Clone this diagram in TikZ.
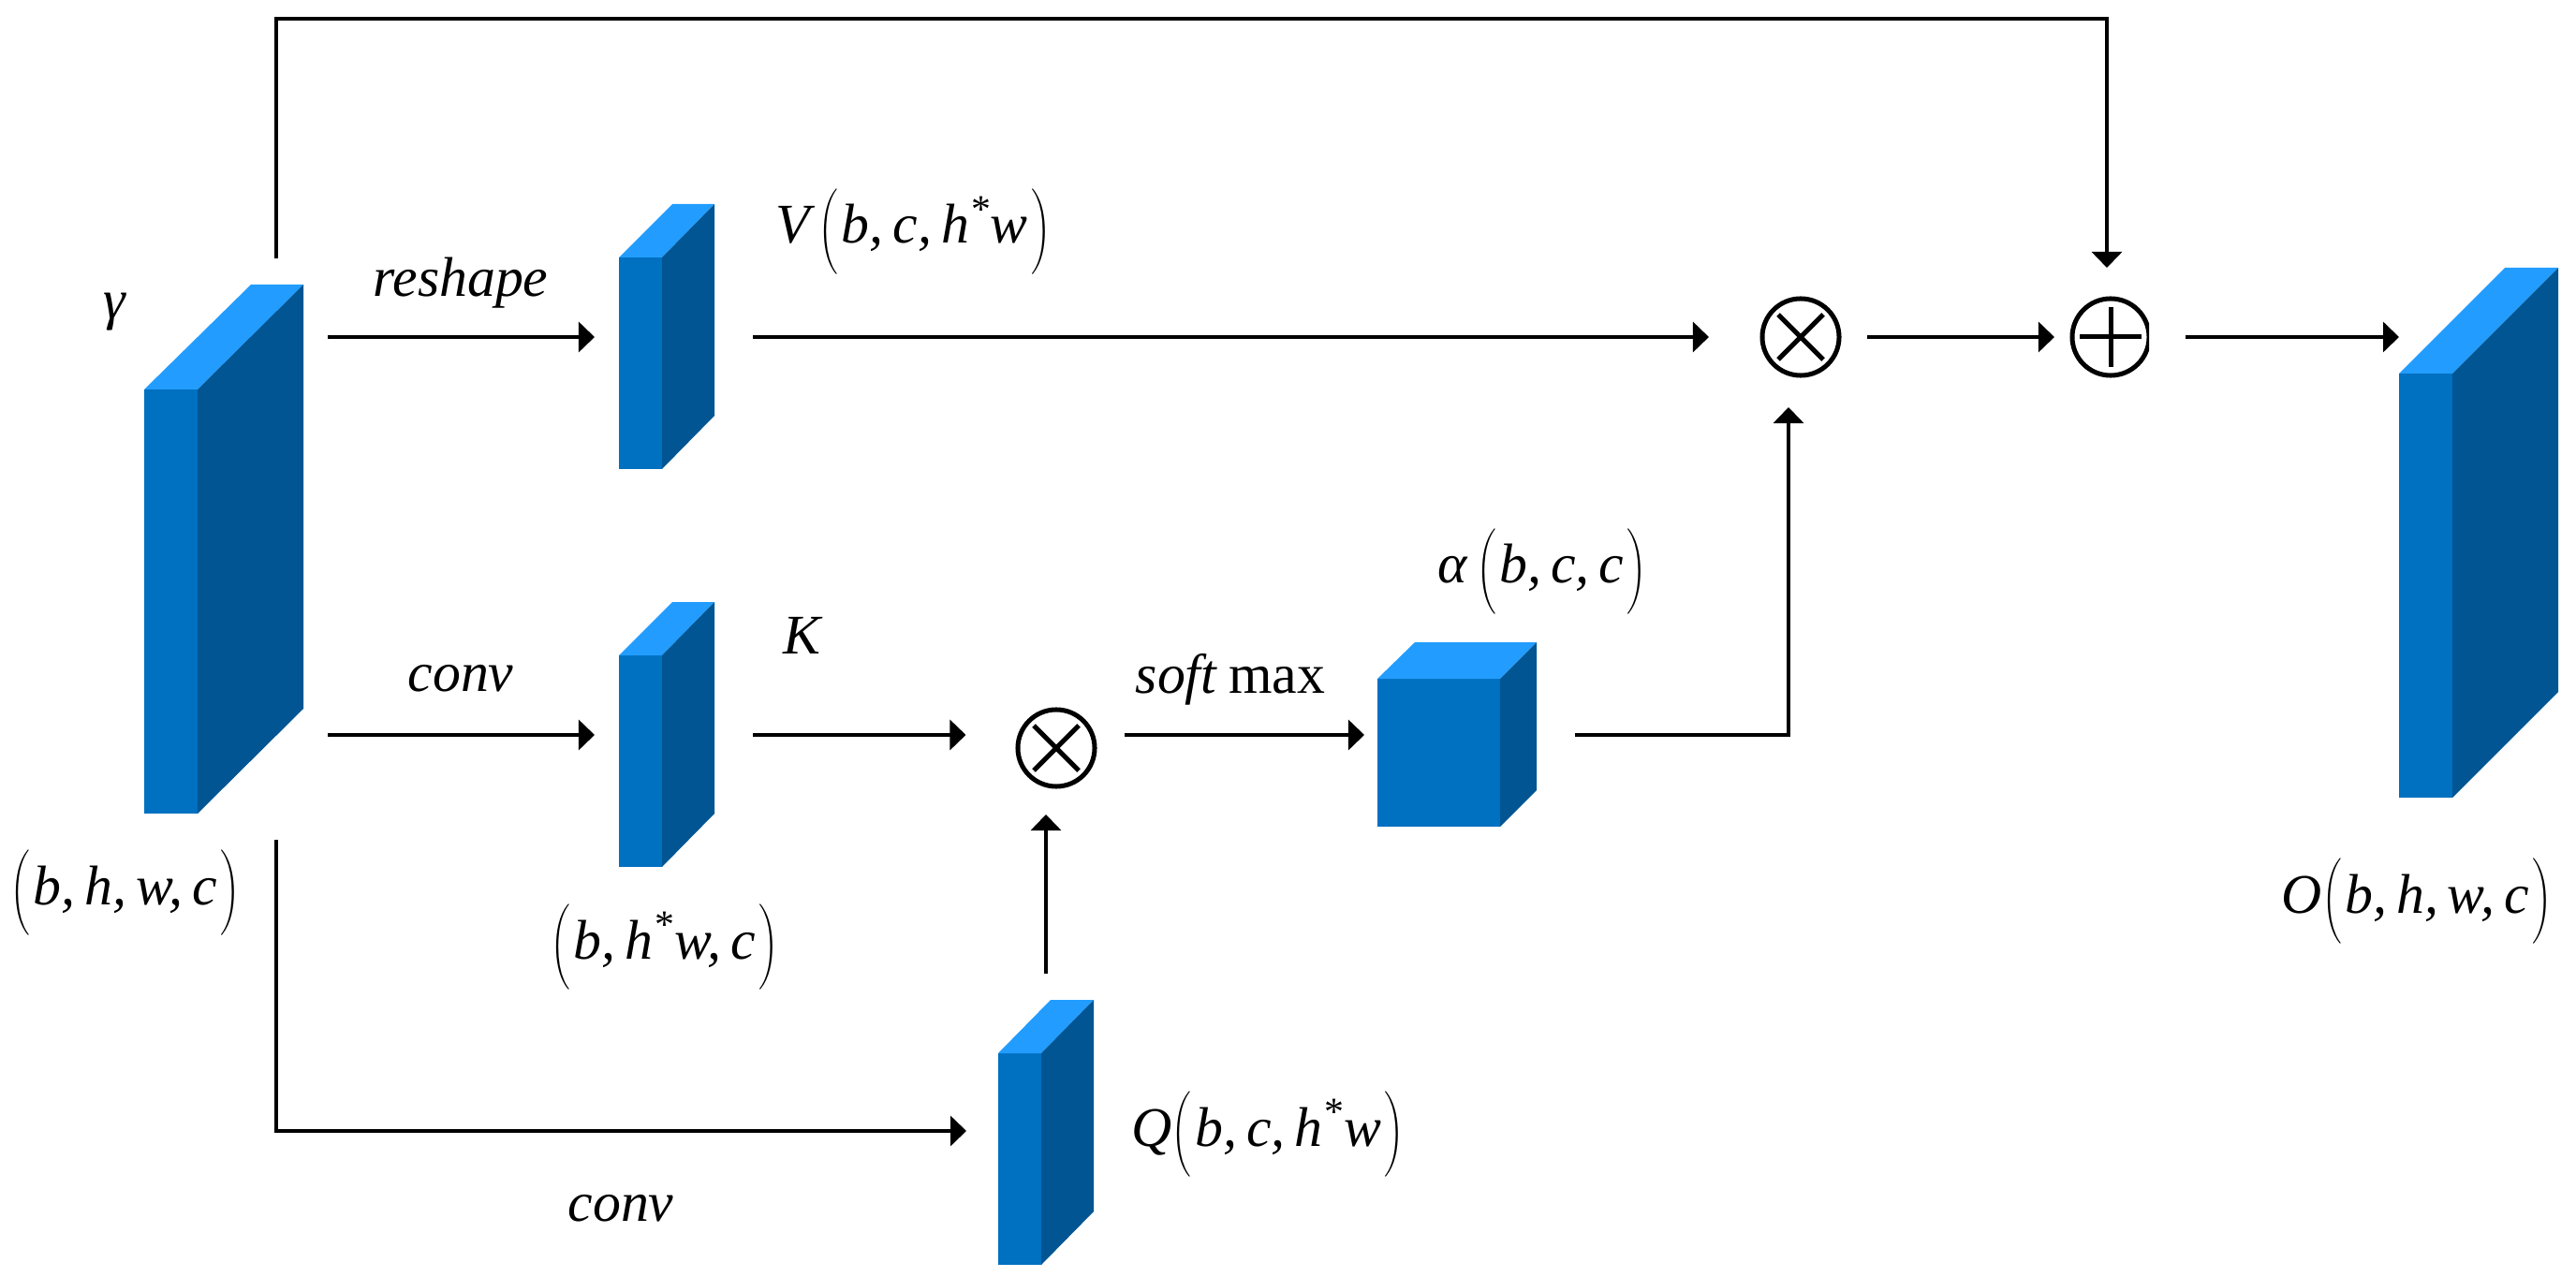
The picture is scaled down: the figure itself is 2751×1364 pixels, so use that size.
\documentclass[tikz,border=0pt]{standalone}
\usepackage{fontspec}
\setmainfont{Liberation Serif}
\usetikzlibrary{arrows.meta}

\definecolor{frontblue}{HTML}{0070C0}
\definecolor{topblue}{HTML}{229DFF}
\definecolor{sideblue}{HTML}{005592}

\tikzset{
    flow/.style={line width=0.035cm, -{Triangle[length=0.17cm,width=0.32cm]}},
    label/.style={anchor=base, inner sep=0pt, font=\fontsize{17}{20}\selectfont\itshape},
    blockbox/.style={inner sep=0pt, outer sep=0pt, anchor=north west},
    opcircle/.style={circle, draw, line width=0.05cm, minimum size=0.82cm, inner sep=0pt},
    opstroke/.style={line width=0.05cm}
}
\newcommand{\lp}{\raisebox{-0.06em}{\scalebox{0.8}[1.08]{$\bigg($}}\hspace{0.06em}}
\newcommand{\rp}{\hspace{0.06em}\raisebox{-0.06em}{\scalebox{0.8}[1.08]{$\bigg)$}}}

\begin{document}
\begin{tikzpicture}[x=0.01cm, y=-0.01cm]
    \useasboundingbox (0,0) rectangle (2751,1364);

    % Blocks: name / front left, right / back left, right / back top, front top, front bottom, side bottom
    \foreach \name/\fl/\fr/\bl/\br/\bt/\ft/\fb/\sb in {
        gamma/154/211/268/324/304/416/869/757,
        Vblock/661/707/718/763/218/275/501/444,
        Kblock/661/707/718/763/643/700/926/869,
        Qblock/1066/1112/1122/1168/1068/1125/1351/1294,
        alpha/1471/1602/1511/1641/686/725/883/844,
        Oblock/2562/2619/2675/2732/286/399/852/739} {
        \fill[frontblue] (\fl,\ft) rectangle (\fr,\fb);
        \fill[topblue] (\fl,\ft) -- (\bl,\bt) -- (\br,\bt) -- (\fr,\ft) -- cycle;
        \fill[sideblue] (\fr,\ft) -- (\br,\bt) -- (\br,\sb) -- (\fr,\fb) -- cycle;
        \node[blockbox, minimum width=(\br-\fl)*0.01cm, minimum height=(\fb-\bt)*0.01cm] (\name) at (\fl,\bt) {};
    }

    % Operators
    \node[opcircle] (otimesK) at (1128,799) {};
    \node[opcircle] (otimesV) at (1923,360) {};
    \begin{scope}
        \clip (2200,300) rectangle (2295,420);
        \node[opcircle] (oplusO) at (2254,360) {};
    \end{scope}
    \foreach \op in {otimesK, otimesV} {
        \draw[opstroke] (\op.center) +(-24,-24) -- +(24,24);
        \draw[opstroke] (\op.center) +(-24,24) -- +(24,-24);
    }
    \draw[opstroke] (oplusO.center) +(-33,0) -- +(33,0);
    \draw[opstroke] (oplusO.center) +(0,-32) -- +(0,32);

    % Rows and free ends of the lines
    \coordinate (rowV) at (0,360);
    \coordinate (rowK) at (0,785);
    \coordinate (skipup) at (295,276);
    \coordinate (topleft) at (295,20);
    \coordinate (topright) at (2250,20);
    \coordinate (plusin) at (2250,286);
    \coordinate (skipdown) at (295,897);
    \coordinate (lowleft) at (295,1208);
    \coordinate (lowright) at (1032,1208);
    \coordinate (alphaout) at (1682,785);
    \coordinate (alphaturn) at (1910,785);
    \coordinate (timesin) at (1910,435);
    \coordinate (Qout) at (1117,1040);
    \coordinate (Qin) at (1117,870);

    % Connectors
    \draw[flow] ([xshift=0.26cm]gamma.east |- rowV) -- ([xshift=-0.26cm]Vblock.west |- rowV);
    \draw[flow] ([xshift=0.41cm]Vblock.east |- rowV) -- ([xshift=-0.545cm]otimesV.west |- rowV);
    \draw[flow] ([xshift=0.275cm]otimesV.east |- rowV) -- ([xshift=-0.165cm]oplusO.west |- rowV);
    \draw[flow] ([xshift=0.365cm]oplusO.east |- rowV) -- (Oblock.west |- rowV);
    \draw[flow] ([xshift=0.26cm]gamma.east |- rowK) -- ([xshift=-0.26cm]Kblock.west |- rowK);
    \draw[flow] ([xshift=0.41cm]Kblock.east |- rowK) -- ([xshift=-0.53cm]otimesK.west |- rowK);
    \draw[flow] ([xshift=0.295cm]otimesK.east |- rowK) -- ([xshift=-0.14cm]alpha.west |- rowK);
    \draw[flow] (skipup) -- (topleft) -- (topright) -- (plusin);
    \draw[flow] (skipdown) -- (lowleft) -- (lowright);
    \draw[flow] (alphaout) -- (alphaturn) -- (timesin);
    \draw[flow] (Qout) -- (Qin);

    % Labels
    \node[label] (labelgamma) at (122,341) {\textit{γ}};
    \node[label] (labelinput) at (134,966) {\lp b,\,h,\,w,\,c\rp};
    \node[label] (labelreshape) at (492,317) {reshape};
    \node[label] (labelconvK) at (492,738) {conv};
    \node[label] (labelconvQ) at (663,1304) {conv};
    \node[label] (labelV) at (975,260) {V\,\lp b,\,c,\,h\textsuperscript{*}w\rp};
    \node[label] (labelK) at (856,698) {K};
    \node[label] (labelKshape) at (710,1024) {\lp b,\,h\textsuperscript{*}w,\,c\rp};
    \node[label] (labelQ) at (1354,1224) {Q\lp b,\,c,\,h\textsuperscript{*}w\rp};
    \node[label] (labelsoft) at (1314,740) {soft\hspace{0.2em}\textup{max}};
    \node[label] (labelalpha) at (1647,623) {α\,\lp b,\,c,\,c\rp};
    \node[label] (labelO) at (2581,975) {O\lp b,\,h,\,w,\,c\rp};
\end{tikzpicture}
\end{document}
